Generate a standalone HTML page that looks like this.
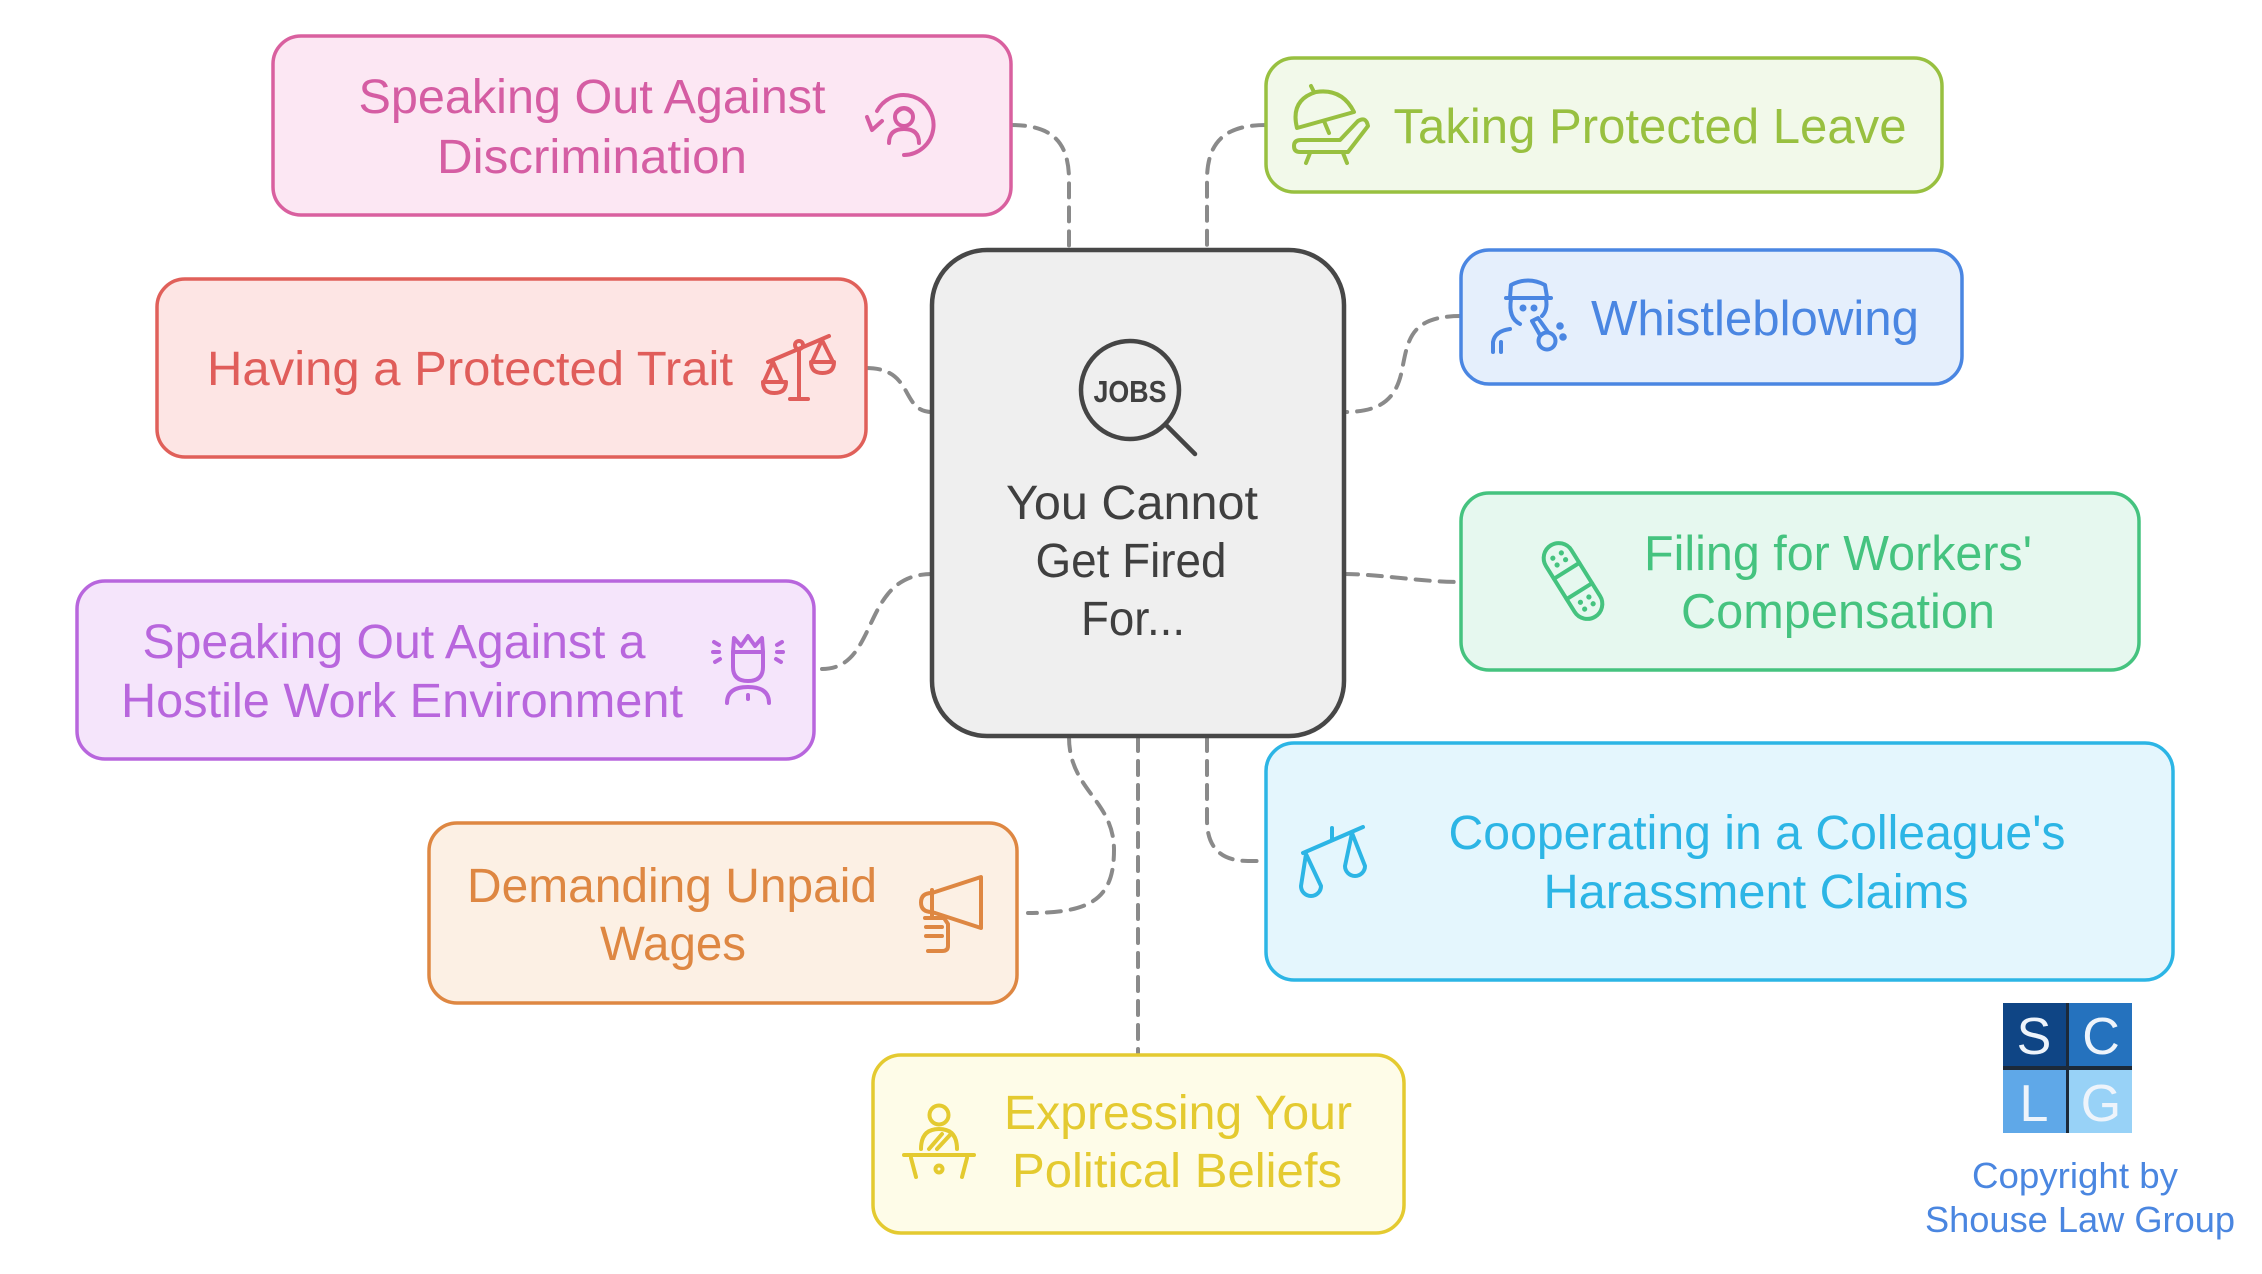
<!DOCTYPE html>
<html>
<head>
<meta charset="utf-8">
<style>
html,body{margin:0;padding:0;background:#ffffff;}
body{width:2262px;height:1274px;overflow:hidden;}
svg{display:block;}
text{font-family:"Liberation Sans",Arial,sans-serif;}
</style>
</head>
<body>
<svg width="2262" height="1274" viewBox="0 0 2262 1274" xmlns="http://www.w3.org/2000/svg">
<rect x="0" y="0" width="2262" height="1274" fill="#ffffff"/>

<!-- connectors -->
<g fill="none" stroke="#8a8a8a" stroke-width="4" stroke-dasharray="14 10" stroke-linecap="round">
  <path d="M1011,125 C1050,125 1069,140 1069,180 L1069,250"/>
  <path d="M1266,125 C1227,125 1207,140 1207,180 L1207,250"/>
  <path d="M866,368 C915,368 900,412 932,412"/>
  <path d="M1461,316 C1410,316 1408,340 1402,370 C1396,400 1380,412 1344,412"/>
  <path d="M822,669 C880,669 860,574 932,574"/>
  <path d="M1344,574 C1380,574 1420,582 1461,582"/>
  <path d="M1069,737 C1069,790 1114,800 1114,850 C1114,900 1090,913 1028,913"/>
  <path d="M1207,737 L1207,820 Q1207,861 1248,861 L1266,861"/>
  <path d="M1138,737 L1138,1055"/>
</g>

<!-- center node -->
<rect x="932" y="250" width="412" height="486" rx="55" ry="55" fill="#efefef" stroke="#474747" stroke-width="4.5"/>
<circle cx="1130" cy="390" r="49" fill="none" stroke="#454545" stroke-width="4.5"/>
<line x1="1166" y1="425" x2="1195" y2="454" stroke="#454545" stroke-width="4.5" stroke-linecap="round"/>
<text x="1130" y="402" text-anchor="middle" font-size="31" font-weight="bold" fill="#404040" textLength="73" lengthAdjust="spacingAndGlyphs">JOBS</text>
<g fill="#3f3f3f" font-size="48" text-anchor="middle">
  <text x="1132" y="519" textLength="252" lengthAdjust="spacingAndGlyphs">You Cannot</text>
  <text x="1131" y="577" textLength="191" lengthAdjust="spacingAndGlyphs">Get Fired</text>
  <text x="1133" y="635" textLength="104" lengthAdjust="spacingAndGlyphs">For...</text>
</g>

<!-- Pink: Speaking Out Against Discrimination -->
<rect x="273" y="36" width="738" height="179" rx="28" fill="#fce7f3" stroke="#d9609f" stroke-width="3.5"/>
<g fill="#d55da3" font-size="48" text-anchor="middle">
  <text x="592" y="113" textLength="467" lengthAdjust="spacingAndGlyphs">Speaking Out Against</text>
  <text x="592" y="173" textLength="310" lengthAdjust="spacingAndGlyphs">Discrimination</text>
</g>
<g fill="none" stroke="#d55da3" stroke-width="4" stroke-linecap="round" stroke-linejoin="round">
  <path d="M904,155 A30,30 0 1 0 877,111"/>
  <path d="M867,117 L872,130 L882,121"/>
  <circle cx="904" cy="117" r="9"/>
  <path d="M896,113 Q904,104 912,113"/>
  <path d="M889,143 Q889,129 904,129 Q919,129 919,143"/>
</g>

<!-- Red: Having a Protected Trait -->
<rect x="157" y="279" width="709" height="178" rx="28" fill="#fde5e4" stroke="#e0605a" stroke-width="3.5"/>
<text x="470" y="385" fill="#e05d5a" font-size="48" text-anchor="middle" textLength="526" lengthAdjust="spacingAndGlyphs">Having a Protected Trait</text>
<g fill="none" stroke="#e05d5a" stroke-width="4" stroke-linecap="round" stroke-linejoin="round">
  <line x1="768" y1="362" x2="829" y2="336"/>
  <circle cx="799" cy="345" r="4"/>
  <line x1="799" y1="349" x2="799" y2="399"/>
  <line x1="790" y1="399" x2="808" y2="399"/>
  <path d="M773,362 L764,382 M773,362 L782,382"/>
  <path d="M763,382 L786,382 Q786,393 774.5,393 Q763,393 763,382 Z"/>
  <path d="M822,340 L812,362 M822,340 L833,362"/>
  <path d="M811,362 L834,362 Q834,373 822.5,373 Q811,373 811,362 Z"/>
</g>

<!-- Purple: Hostile Work Environment -->
<rect x="77" y="581" width="737" height="178" rx="28" fill="#f5e5fb" stroke="#b866dd" stroke-width="3.5"/>
<g fill="#b866dd" font-size="48" text-anchor="middle">
  <text x="394" y="658" textLength="503" lengthAdjust="spacingAndGlyphs">Speaking Out Against a</text>
  <text x="402" y="717" textLength="562" lengthAdjust="spacingAndGlyphs">Hostile Work Environment</text>
</g>
<g fill="none" stroke="#b866dd" stroke-width="4" stroke-linecap="round" stroke-linejoin="round">
  <path d="M733,652 L734,638 L741,646 L748,636 L755,646 L762,638 L763,652 Z"/>
  <path d="M733,652 L733,667 Q733,681 748,681 Q763,681 763,667 L763,652"/>
  <path d="M727,703 Q727,687 748,687 Q769,687 769,703"/>
  <line x1="748" y1="695" x2="748" y2="699"/>
  <line x1="714" y1="642" x2="719" y2="645"/>
  <line x1="713" y1="652" x2="719" y2="652"/>
  <line x1="715" y1="662" x2="720" y2="659"/>
  <line x1="782" y1="642" x2="777" y2="645"/>
  <line x1="783" y1="652" x2="777" y2="652"/>
  <line x1="781" y1="662" x2="776" y2="659"/>
</g>

<!-- Orange: Demanding Unpaid Wages -->
<rect x="429" y="823" width="588" height="180" rx="28" fill="#fcf0e4" stroke="#de8742" stroke-width="3.5"/>
<g fill="#de8742" font-size="48" text-anchor="middle">
  <text x="672" y="902" textLength="410" lengthAdjust="spacingAndGlyphs">Demanding Unpaid</text>
  <text x="673" y="960" textLength="146" lengthAdjust="spacingAndGlyphs">Wages</text>
</g>
<g fill="none" stroke="#de8742" stroke-width="4" stroke-linecap="round" stroke-linejoin="round">
  <path d="M932,893 L981,877 L981,928 L932,912"/>
  <path d="M932,893 Q921,893 921,902.5 Q921,912 932,912"/>
  <path d="M932,890 L932,916"/>
  <path d="M925,918 L944,918 L948,924 L948,946 Q948,951 942,951 L928,951"/>
  <path d="M926,927 L942,927 M926,936 L942,936"/>
</g>

<!-- Yellow: Expressing Your Political Beliefs -->
<rect x="873" y="1055" width="531" height="178" rx="28" fill="#fefce8" stroke="#e4ca30" stroke-width="3.5"/>
<g fill="#e4ca30" font-size="48" text-anchor="middle">
  <text x="1178" y="1129" textLength="348" lengthAdjust="spacingAndGlyphs">Expressing Your</text>
  <text x="1177" y="1187" textLength="330" lengthAdjust="spacingAndGlyphs">Political Beliefs</text>
</g>
<g fill="none" stroke="#e4ca30" stroke-width="4" stroke-linecap="round" stroke-linejoin="round">
  <circle cx="939" cy="1115" r="9.5"/>
  <path d="M921,1149 Q921,1129 939,1129 Q957,1129 957,1149"/>
  <path d="M929,1149 L942,1134 M937,1149 L950,1135"/>
  <line x1="904" y1="1155" x2="974" y2="1155"/>
  <line x1="911" y1="1158" x2="916" y2="1177"/>
  <line x1="967" y1="1158" x2="962" y2="1177"/>
  <circle cx="939" cy="1169" r="3.5"/>
</g>

<!-- Lime: Taking Protected Leave -->
<rect x="1266" y="58" width="676" height="134" rx="28" fill="#f2f9ea" stroke="#98c040" stroke-width="3.5"/>
<text x="1650" y="143" fill="#98c040" font-size="49" text-anchor="middle" textLength="513" lengthAdjust="spacingAndGlyphs">Taking Protected Leave</text>
<g fill="none" stroke="#98c040" stroke-width="4" stroke-linecap="round" stroke-linejoin="round">
  <path d="M1297,128 Q1290,100 1316,92 Q1342,88 1354,112 Z"/>
  <line x1="1314" y1="92" x2="1311" y2="86"/>
  <line x1="1324" y1="121" x2="1329" y2="133"/>
  <path d="M1301,140 L1340,140 L1358,121 Q1366,116 1368,126 L1348,152 L1300,152 Q1294,152 1294,146 Q1294,140 1301,140 Z"/>
  <line x1="1310" y1="153" x2="1306" y2="163"/>
  <line x1="1343" y1="153" x2="1347" y2="163"/>
</g>

<!-- Blue: Whistleblowing -->
<rect x="1461" y="250" width="501" height="134" rx="28" fill="#e5effc" stroke="#4a86e2" stroke-width="3.5"/>
<text x="1755" y="335" fill="#4a86e2" font-size="49" text-anchor="middle" textLength="328" lengthAdjust="spacingAndGlyphs">Whistleblowing</text>
<g fill="none" stroke="#4a86e2" stroke-width="4" stroke-linecap="round" stroke-linejoin="round">
  <path d="M1510,297 L1511,285 Q1528,276 1545,285 L1547,297"/>
  <line x1="1506" y1="298" x2="1551" y2="298"/>
  <path d="M1511,299 Q1508,318 1520,324"/>
  <path d="M1546,299 Q1548,310 1542,316"/>
  <circle cx="1523" cy="308" r="1.5" fill="#4a86e2"/>
  <circle cx="1534" cy="308" r="1.5" fill="#4a86e2"/>
  <path d="M1493,352 L1493,342 Q1495,331 1510,329"/>
  <path d="M1501,352 L1501,342"/>
  <circle cx="1547" cy="341" r="8.5"/>
  <path d="M1540,335 L1532,321 L1538,318 L1548,332"/>
  <circle cx="1560" cy="326" r="1.8" fill="#4a86e2"/>
  <circle cx="1563" cy="337" r="1.8" fill="#4a86e2"/>
</g>

<!-- Green: Filing for Workers' Compensation -->
<rect x="1461" y="493" width="678" height="177" rx="28" fill="#e6f8ef" stroke="#45c37f" stroke-width="3.5"/>
<g fill="#45c37f" font-size="49" text-anchor="middle">
  <text x="1838" y="570" textLength="388" lengthAdjust="spacingAndGlyphs">Filing for Workers'</text>
  <text x="1838" y="628" textLength="314" lengthAdjust="spacingAndGlyphs">Compensation</text>
</g>
<g transform="translate(1573,581) rotate(58)" fill="none" stroke="#45c37f" stroke-width="4" stroke-linecap="round" stroke-linejoin="round">
  <rect x="-42" y="-15" width="84" height="30" rx="15"/>
  <line x1="-12" y1="-15" x2="-12" y2="15"/>
  <line x1="12" y1="-15" x2="12" y2="15"/>
  <g fill="#45c37f" stroke="none">
    <circle cx="-30" cy="-5" r="2.6"/><circle cx="-30" cy="5" r="2.6"/>
    <circle cx="-22" cy="-5" r="2.6"/><circle cx="-22" cy="5" r="2.6"/>
    <circle cx="22" cy="-5" r="2.6"/><circle cx="22" cy="5" r="2.6"/>
    <circle cx="30" cy="-5" r="2.6"/><circle cx="30" cy="5" r="2.6"/>
  </g>
</g>

<!-- Cyan: Cooperating in a Colleague's Harassment Claims -->
<rect x="1266" y="743" width="907" height="237" rx="28" fill="#e4f6fd" stroke="#2cb5e5" stroke-width="3.5"/>
<g fill="#2cb5e5" font-size="48" text-anchor="middle">
  <text x="1757" y="849" textLength="617" lengthAdjust="spacingAndGlyphs">Cooperating in a Colleague's</text>
  <text x="1756" y="908" textLength="425" lengthAdjust="spacingAndGlyphs">Harassment Claims</text>
</g>
<g fill="none" stroke="#2cb5e5" stroke-width="4" stroke-linecap="round" stroke-linejoin="round">
  <line x1="1303" y1="853" x2="1363" y2="827"/>
  <line x1="1332" y1="828" x2="1332" y2="839"/>
  <path d="M1306,854 L1301,886 A10,10 0 1 0 1321,886 Z"/>
  <path d="M1352,833 L1345,866 A10,10 0 1 0 1365,866 Z"/>
</g>

<!-- Logo -->
<rect x="2003" y="1003" width="129" height="130" fill="#1c2a3a"/>
<rect x="2003" y="1003" width="63" height="63" fill="#0f4585"/>
<rect x="2069" y="1003" width="63" height="63" fill="#2572be"/>
<rect x="2003" y="1070" width="63" height="63" fill="#5fa8e8"/>
<rect x="2069" y="1070" width="63" height="63" fill="#98d2f7"/>
<g fill="#eef4fb" font-size="52" text-anchor="middle">
  <text x="2034" y="1054">S</text>
  <text x="2101" y="1054">C</text>
  <text x="2034" y="1121">L</text>
  <text x="2101" y="1121">G</text>
</g>
<g fill="#4a86e0" font-size="36" text-anchor="middle">
  <text x="2075" y="1188" textLength="206" lengthAdjust="spacingAndGlyphs">Copyright by</text>
  <text x="2080" y="1232" textLength="310" lengthAdjust="spacingAndGlyphs">Shouse Law Group</text>
</g>
</svg>
</body>
</html>
